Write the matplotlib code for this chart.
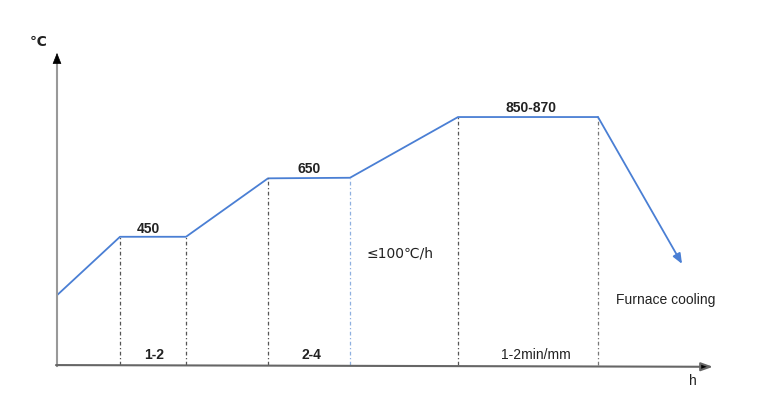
import matplotlib
matplotlib.use("Agg")
import matplotlib.pyplot as plt

# schematic heat-treatment curve (time in arbitrary units, temperature in ℃)
times = [0.0, 6.3, 12.9, 21.1, 29.3, 40.1, 54.1]
temps = [245, 450, 450, 655, 657, 870, 870]
end_time, end_temp = 62.5, 355
marker_times = [6.3, 12.9, 21.1, 29.3, 40.1, 54.1]
marker_temps = [450, 450, 655, 657, 870, 870]
marker_colors = ["#555555", "#555555", "#555555", "#8fb0e0", "#555555", "#777777"]
plateau_labels = ["450", "650", "850-870"]
plateau_label_pos = [(9.1, 480), (25.2, 690), (47.4, 905)]
hold_labels = ["1-2", "2-4", "1-2min/mm"]
hold_label_x = [9.7, 25.4, 47.9]
rate_label = "≤100℃/h"
cool_label = "Furnace cooling"

fig = plt.figure(figsize=(7.68, 4.02), dpi=100)
ax = fig.add_axes([0, 0, 1, 1])
ax.set_xlim(-5.7, 71.1)
ax.set_ylim(-126, 1284)
ax.axis("off")

blue = "#4a7fd4"
ax.plot(times, temps, color=blue, lw=1.3, solid_capstyle="round")
ax.annotate("", xy=(end_time, end_temp), xytext=(times[-1], temps[-1]),
            arrowprops=dict(arrowstyle="-|>,head_length=0.6,head_width=0.25",
                            color=blue, lw=1.3, shrinkA=0, shrinkB=0))

for t, T, c in zip(marker_times, marker_temps, marker_colors):
    ax.plot([t, t], [0, T], color=c, lw=0.9, ls=(0, (3, 2, 1, 2)))

# axes arrows
ax.plot([0, 0], [-3, 1070], color="#999999", lw=1.5)
ax.annotate("", xy=(0, 1095), xytext=(0, 1060),
            arrowprops=dict(arrowstyle="-|>,head_length=0.7,head_width=0.28",
                            color="black", lw=0.5, shrinkA=0, shrinkB=0))
ax.annotate("", xy=(65.6, -6), xytext=(-0.1, 0),
            arrowprops=dict(arrowstyle="-|>,head_length=0.7,head_width=0.25",
                            color="#666666", lw=1.5, shrinkA=0, shrinkB=0,
                            fc="black"))

font = dict(family=["Liberation Sans", "DejaVu Sans"], color="#222222")
for lab, (x, y) in zip(plateau_labels, plateau_label_pos):
    ax.text(x, y, lab, ha="center", va="center", fontsize=10, fontweight="bold", **font)
for lab, x in zip(hold_labels, hold_label_x):
    ax.text(x, 38, lab, ha="center", va="center", fontsize=10,
            fontweight="bold" if lab != "1-2min/mm" else "normal", **font)
ax.text(34.3, 395, rate_label, ha="center", va="center", fontsize=10,
        family=["DejaVu Sans"], color="#222222")
ax.text(-1.9, 1138, "℃", ha="center", va="center", fontsize=10, family=["DejaVu Sans"],
        fontweight="bold", color="#222222")
ax.text(60.9, 232, cool_label, ha="center", va="center", fontsize=10, **font)
ax.text(63.6, -52, "h", ha="center", va="center", fontsize=10, **font)

fig.savefig("out.png", dpi=100)
